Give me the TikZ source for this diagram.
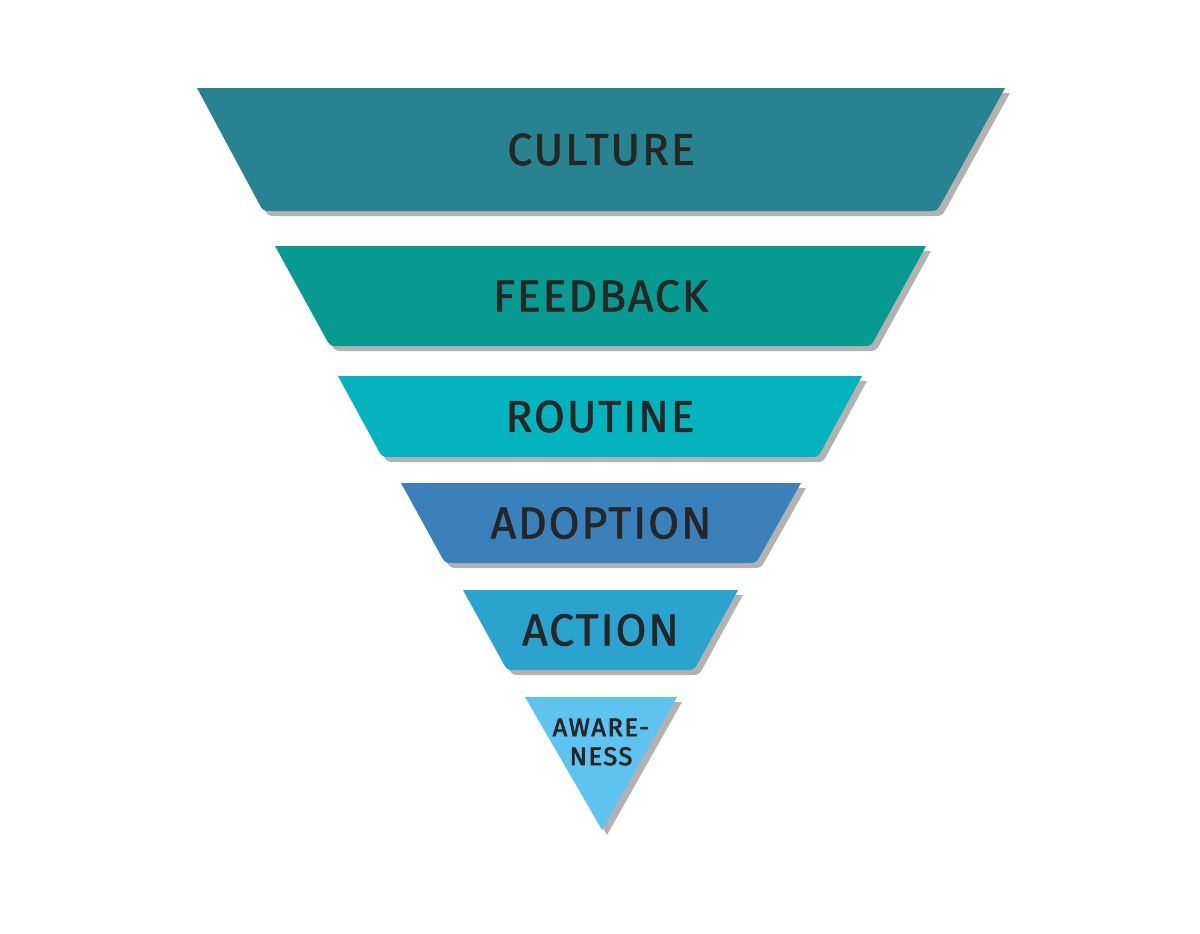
\documentclass[tikz,border=0pt]{standalone}
\usepackage{fontspec}
\setmainfont{Fira Sans}
\newfontfamily\bandfont{Fira Sans}[FakeBold=1.3, LetterSpace=4]
\newfontfamily\tipfont{Fira Sans}[FakeBold=2.6, LetterSpace=6]
\usetikzlibrary{calc,shadows}
\definecolor{culture}{HTML}{27838F}
\definecolor{feedback}{HTML}{069A91}
\definecolor{routine}{HTML}{03B4BE}
\definecolor{adoption}{HTML}{3A80BA}
\definecolor{action}{HTML}{2AA3CE}
\definecolor{awareness}{HTML}{5FC3F0}
\definecolor{inkgray}{HTML}{262626}
\begin{document}
\begin{tikzpicture}[x=0.02cm, y=-0.02cm]
    \tikzstyle{band} = [drop shadow={shadow xshift=1mm, shadow yshift=-1mm, fill=black!50, opacity=0.6}]
    \tikzstyle{bandtext} = [text=inkgray, font=\bandfont\fontsize{25.5}{25.5}\selectfont]
    \useasboundingbox [fill=white] (0,0) rectangle (1200,933);

    % funnel bands, bottom corners rounded
    \foreach \tl/\tr/\ty/\bl/\br/\by/\col/\txt in {
        197/1005/88/263/937/211/culture/CULTURE,
        275/926/246/330/871/346/feedback/FEEDBACK,
        338/862/376/382/818/457/routine/ROUTINE,
        401/801/483/445/756/563/adoption/ADOPTION,
        463/738/590/507/694/670/action/ACTION}
    {
        \fill [band, fill=\col] (\tl,\ty) -- (\tr,\ty)
            -- ($(\br,\by)!5pt!(\tr,\ty)$) .. controls (\br,\by) .. ($(\br,\by)!5pt!(\bl,\by)$)
            -- ($(\bl,\by)!5pt!(\br,\by)$) .. controls (\bl,\by) .. ($(\bl,\by)!5pt!(\tl,\ty)$)
            -- cycle;
        \node [bandtext] (\col) at ({(\tl+\tr)/2}, {(\ty+\by)/2}) {\txt};
    }

    % tip of the funnel
    \fill [band, fill=awareness] (525,697) -- (677,697) -- (602,830) -- cycle;
    \node [bandtext, align=center, font=\tipfont\fontsize{14.5}{16.5}\selectfont] (awareness) at (601,742) {AWARE-\\NESS};
\end{tikzpicture}
\end{document}
